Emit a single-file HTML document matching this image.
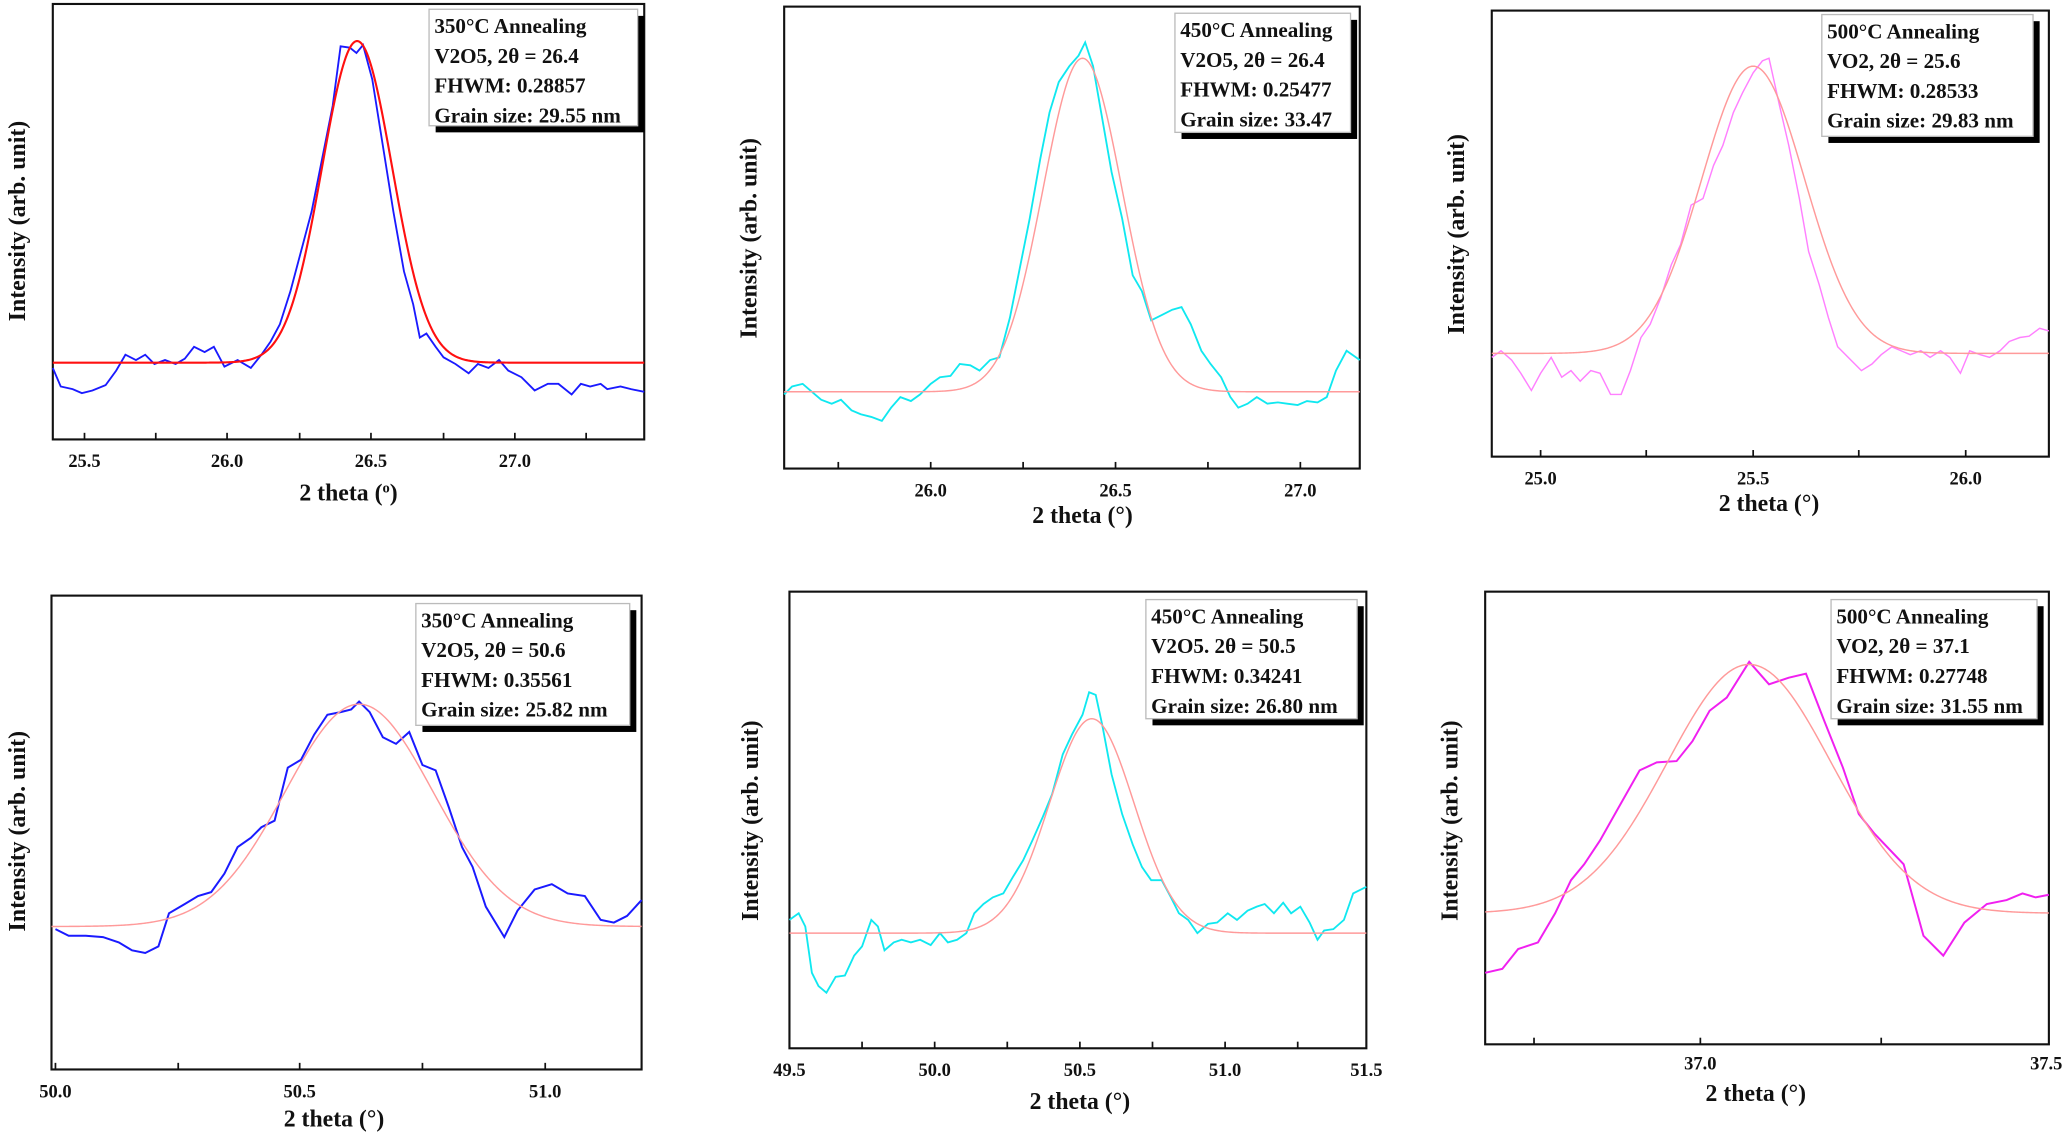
<!DOCTYPE html>
<html><head><meta charset="utf-8"><style>
html,body{margin:0;padding:0;background:#fff;}
svg{display:block;}
text{font-family:"Liberation Serif",serif;font-weight:bold;fill:#111;}
.t{font-size:14px;text-anchor:middle;}
.xl{font-size:18px;text-anchor:middle;}
.lg{font-size:16px;}
.ax{fill:none;stroke:#111;stroke-width:1.6;}
</style></head><body>
<svg id="s" width="2070" height="1133" viewBox="0 0 1568 856" preserveAspectRatio="none" xmlns="http://www.w3.org/2000/svg">
<rect class="ax" x="40" y="3" width="448" height="329"/>
<polyline fill="none" stroke="#1a1aff" stroke-width="1.4" points="40,278 46,292 55,294 62,297 70,295 80,291 88,280 95,268 103,272 110,268 117,275 125,272 133,275 140,271 147,262 155,266 162,262 170,277 180,272 190,278 198,268 205,258 212,245 220,220 228,190 236,160 244,120 252,80 258,35 265,36 270,40 275,34 282,60 290,110 298,160 306,205 313,230 318,255 323,252 330,262 336,270 345,275 355,282 362,275 370,278 378,272 385,280 395,285 405,295 415,290 423,290 433,298 440,290 447,292 455,290 460,294 470,292 478,294 488,296"/>
<path id="g1" fill="none" stroke="#ff1010" stroke-width="1.6"/>
<rect class="ax" x="594" y="5" width="436" height="349"/>
<polyline fill="none" stroke="#10e8f0" stroke-width="1.4" points="594,298 600,292 608,290 615,296 622,302 630,305 637,302 645,310 652,313 660,315 668,318 675,308 682,300 690,303 697,298 705,290 712,285 720,284 727,275 735,276 742,280 750,272 757,270 765,240 772,205 780,165 788,120 795,85 802,62 810,50 817,42 822,32 828,50 835,90 842,130 850,165 858,208 865,220 872,242 880,238 888,234 895,232 902,245 910,265 917,275 925,285 932,300 938,308 945,305 952,300 960,305 968,304 975,305 983,306 990,303 998,304 1005,300 1012,280 1020,265 1030,272"/>
<path id="g2" fill="none" stroke="#ff9a9a" stroke-width="1.1"/>
<rect class="ax" x="1130" y="8" width="422" height="337"/>
<polyline fill="none" stroke="#ff80ff" stroke-width="1.1" points="1130,270 1137,265 1145,272 1152,282 1160,295 1167,282 1175,270 1183,285 1190,280 1197,288 1205,280 1212,282 1220,298 1228,298 1235,280 1243,255 1250,245 1258,225 1266,200 1273,185 1281,155 1290,150 1298,125 1305,110 1313,85 1320,70 1328,55 1335,46 1340,44 1348,80 1355,110 1363,150 1370,190 1378,215 1385,240 1392,262 1400,270 1410,280 1418,275 1425,268 1433,262 1440,265 1447,268 1455,265 1462,270 1470,265 1477,270 1485,282 1492,265 1500,268 1507,270 1515,265 1522,258 1530,255 1537,254 1545,248 1552,250"/>
<path id="g3" fill="none" stroke="#ff9a9a" stroke-width="1.1"/>
<rect class="ax" x="39" y="450" width="447" height="358"/>
<polyline fill="none" stroke="#1a1aff" stroke-width="1.5" points="42,702 52,707 65,707 78,708 90,712 100,718 110,720 120,715 128,690 140,683 150,677 160,674 170,660 180,640 190,633 198,625 208,620 218,580 228,574 238,555 248,540 258,538 266,536 272,530 280,538 290,557 300,562 310,553 320,578 330,582 340,610 350,640 358,655 368,685 382,708 392,688 405,672 418,668 430,675 443,677 455,695 465,697 475,692 486,680"/>
<path id="g4" fill="none" stroke="#ff9a9a" stroke-width="1.1"/>
<rect class="ax" x="598" y="447" width="437" height="345"/>
<polyline fill="none" stroke="#10e8f0" stroke-width="1.4" points="598,695 605,690 610,700 615,735 620,745 626,750 633,738 640,737 647,722 653,715 660,695 665,700 670,718 677,712 683,710 690,712 697,710 705,714 712,705 718,712 725,710 732,705 738,690 745,683 752,678 760,675 767,663 775,650 782,635 790,617 797,600 805,570 812,555 820,540 825,523 830,525 835,548 842,585 850,615 858,638 865,655 872,665 880,665 887,678 893,690 900,695 907,705 915,698 922,697 930,690 937,695 945,688 952,685 958,683 965,690 972,682 978,690 985,685 992,697 998,710 1003,703 1010,702 1018,695 1025,675 1035,670"/>
<path id="g5" fill="none" stroke="#ff9a9a" stroke-width="1.1"/>
<rect class="ax" x="1125" y="447" width="427" height="342"/>
<polyline fill="none" stroke="#f020f0" stroke-width="1.5" points="1125,735 1138,732 1150,717 1165,712 1178,690 1190,665 1200,653 1212,635 1225,612 1242,582 1255,576 1270,575 1282,560 1295,537 1308,527 1325,500 1340,517 1355,512 1368,509 1382,545 1396,580 1408,615 1420,630 1442,653 1457,707 1472,722 1488,697 1505,683 1520,680 1532,675 1542,678 1552,676"/>
<path id="g6" fill="none" stroke="#ff9a9a" stroke-width="1.1"/>

<g id="ticks" stroke="#111" stroke-width="1.3"></g>

<text class="t" x="64" y="353">25.5</text><text class="t" x="172" y="353">26.0</text><text class="t" x="281" y="353">26.5</text><text class="t" x="390" y="353">27.0</text>
<text class="t" x="705" y="375">26.0</text><text class="t" x="845" y="375">26.5</text><text class="t" x="985" y="375">27.0</text>
<text class="t" x="1167" y="366">25.0</text><text class="t" x="1328" y="366">25.5</text><text class="t" x="1489" y="366">26.0</text>
<text class="t" x="42" y="829">50.0</text><text class="t" x="227" y="829">50.5</text><text class="t" x="413" y="829">51.0</text>
<text class="t" x="598" y="813">49.5</text><text class="t" x="708" y="813">50.0</text><text class="t" x="818" y="813">50.5</text><text class="t" x="928" y="813">51.0</text><text class="t" x="1035" y="813">51.5</text>
<text class="t" x="1288" y="808">37.0</text><text class="t" x="1550" y="808">37.5</text>

<text class="xl" x="264" y="378">2 theta (<tspan font-size="11" dy="-6">o</tspan><tspan dy="6">)</tspan></text>
<text class="xl" x="820" y="395">2 theta (°)</text>
<text class="xl" x="1340" y="386">2 theta (°)</text>
<text class="xl" x="253" y="851">2 theta (°)</text>
<text class="xl" x="818" y="838">2 theta (°)</text>
<text class="xl" x="1330" y="832">2 theta (°)</text>
<text class="xl" transform="translate(19,167) rotate(-90)">Intensity (arb. unit)</text>
<text class="xl" transform="translate(573,180) rotate(-90)">Intensity (arb. unit)</text>
<text class="xl" transform="translate(1109,177) rotate(-90)">Intensity (arb. unit)</text>
<text class="xl" transform="translate(19,628) rotate(-90)">Intensity (arb. unit)</text>
<text class="xl" transform="translate(574,620) rotate(-90)">Intensity (arb. unit)</text>
<text class="xl" transform="translate(1104,620) rotate(-90)">Intensity (arb. unit)</text>

<g id="legends"></g>
</svg>
<script>
function gauss(id,x0,x1,c,sig,base,peak){
  let d='';for(let x=x0;x<=x1;x+=1){const y=base-(base-peak)*Math.exp(-(x-c)*(x-c)/(2*sig*sig));d+=(x==x0?'M':'L')+x+','+y.toFixed(2);}
  document.getElementById(id).setAttribute('d',d);
}
gauss('g1',40,488,270.5,26.6,274,31);
gauss('g2',594,1030,820,30,296,44);
gauss('g3',1130,1552,1328,39,267,50);
gauss('g4',39,486,272,56,700,532);
gauss('g5',598,1035,827,32,705,543);
gauss('g6',1125,1552,1325,62,690,502);
const T=document.getElementById('ticks');let s='';
function tk(xs,yb){xs.forEach(x=>{s+=`<line x1="${x}" y1="${yb}" x2="${x}" y2="${yb-5}"/>`});}
tk([64,118,172,227,281,336,390,444],332);
tk([635,705,775,845,915,985],354);
tk([1167,1247,1328,1408,1489],345);
tk([42,135,227,320,413],808);
tk([598,653,708,763,818,873,928,983],792);
tk([1162,1288,1425],789);
T.innerHTML=s;
const L=document.getElementById('legends');let h='';
function lg(x,y,w,hh,lines){
  h+=`<rect x="${x+5}" y="${y+5}" width="${w}" height="${hh}" fill="#000"/>`;
  h+=`<rect x="${x}" y="${y}" width="${w}" height="${hh}" fill="#fff" stroke="#bbb" stroke-width="1"/>`;
  lines.forEach((t,i)=>{h+=`<text class="lg" x="${x+4}" y="${y+18+i*22.5}">${t}</text>`});
}
lg(325,7,158,88,['350°C Annealing','V2O5, 2θ = 26.4','FHWM: 0.28857','Grain size: 29.55 nm']);
lg(890,10,133,90,['450°C Annealing','V2O5, 2θ = 26.4','FHWM: 0.25477','Grain size: 33.47']);
lg(1380,11,160,92,['500°C Annealing','VO2, 2θ = 25.6','FHWM: 0.28533','Grain size: 29.83 nm']);
lg(315,456,162,92,['350°C Annealing','V2O5, 2θ = 50.6','FHWM: 0.35561','Grain size: 25.82 nm']);
lg(868,453,160,90,['450°C Annealing','V2O5. 2θ = 50.5','FHWM: 0.34241','Grain size: 26.80 nm']);
lg(1387,453,156,90,['500°C Annealing','VO2, 2θ = 37.1','FHWM: 0.27748','Grain size: 31.55 nm']);
L.innerHTML=h;
</script>
</body></html>
